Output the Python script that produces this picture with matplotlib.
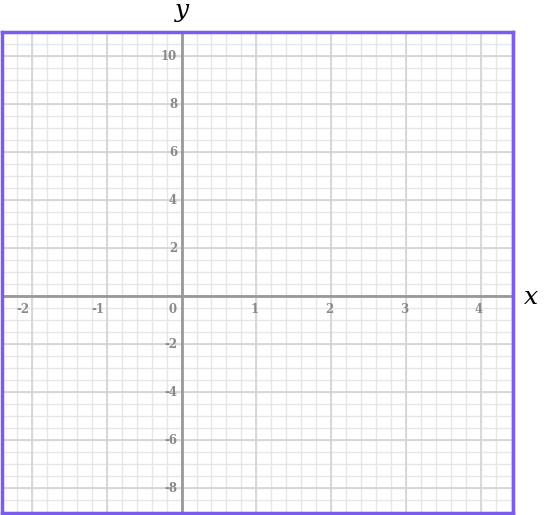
import matplotlib
matplotlib.use("Agg")
import matplotlib.pyplot as plt
import numpy as np

xticks = [-2, -1, 1, 2, 3, 4]
yticks = [-8, -6, -4, -2, 2, 4, 6, 8, 10]
xlim = (-2.4, 4.43)
ylim = (-9.04, 11.0)

plt.rcParams['mathtext.fontset'] = 'dejavuserif'
fig = plt.figure(figsize=(5.44, 5.15), dpi=100)
ax = fig.add_axes([2/544, 2/515, 511/544, 481/515])
ax.set_xlim(*xlim); ax.set_ylim(*ylim)
for x in np.arange(-2.4, 4.45, 0.2):
    ax.axvline(x, color='#e6e6e6', lw=1, zorder=0)
for y in np.arange(-9.0, 11.01, 0.5):
    ax.axhline(y, color='#e6e6e6', lw=1, zorder=0)
for x in range(-2, 5):
    ax.axvline(x, color='#d6d6d6', lw=1.3, zorder=0)
for y in range(-8, 11, 2):
    ax.axhline(y, color='#d6d6d6', lw=1.3, zorder=0)
ax.axhline(0, color='#999999', lw=2, zorder=1)
ax.axvline(0, color='#999999', lw=2, zorder=1)
fk = dict(family='DejaVu Serif', fontweight='bold', fontsize=8.5, color='#888888')
for x in xticks:
    ax.text(x - 0.03, -0.3, str(x), ha='right' if x < 0 else 'center', va='top', **fk)
ax.text(-0.12, -0.3, '0', ha='center', va='top', **fk)
for y in yticks:
    ax.text(-0.06, y, str(y), ha='right', va='center', **fk)
ax.set_xticks([]); ax.set_yticks([])
for s in ax.spines.values():
    s.set_color('#7b5cf0'); s.set_linewidth(2.5)
fig.text(183/544, 1 - 12/515, '$y$', fontsize=18, ha='center', va='center')
fig.text(531/544, 1 - 297/515, '$x$', fontsize=18, ha='center', va='center')
fig.savefig('out.png', dpi=100)
